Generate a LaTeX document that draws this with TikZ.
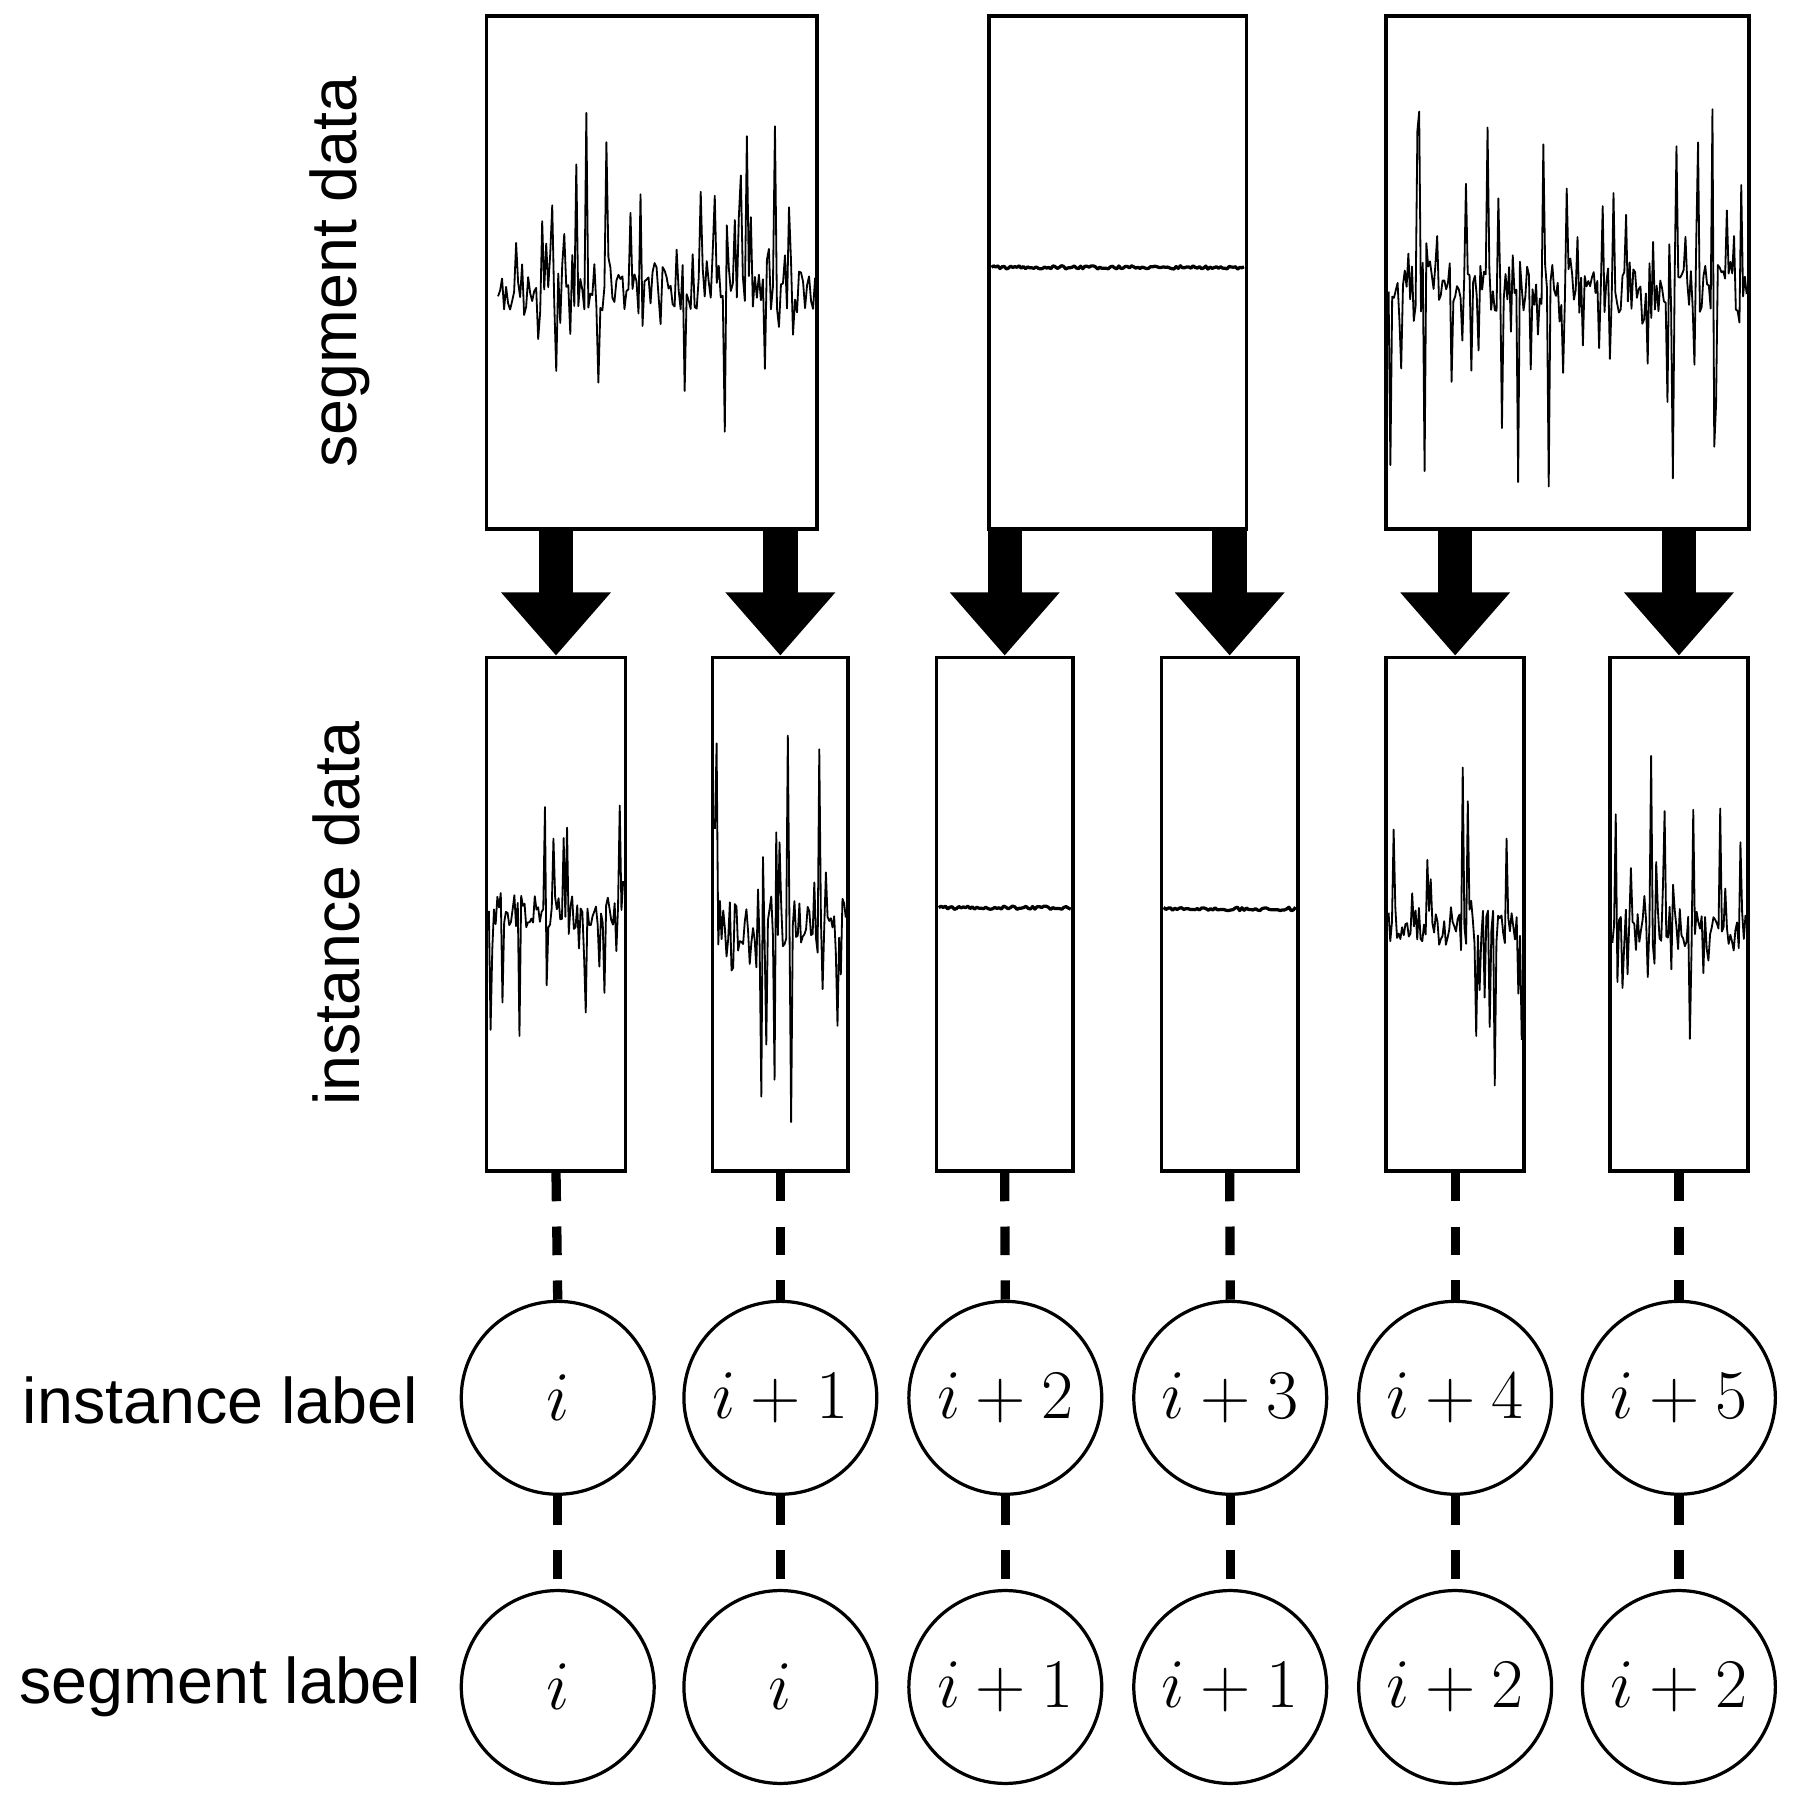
\documentclass[tikz,border=0pt]{standalone}
\usepackage{fontspec}
\setmainfont{Liberation Sans}
\usetikzlibrary{arrows.meta}
\begin{document}
\begin{tikzpicture}[x=0.01cm,y=-0.01cm,
  box/.style={draw,line width=0.9pt,minimum height=4.47cm,inner sep=0},
  lab/.style={draw,circle,line width=0.8pt,minimum size=1.68cm,inner sep=0,font=\fontsize{17}{20}\selectfont},
  txt/.style={font=\fontsize{16}{19}\selectfont},
  big/.style={line width=0.3cm,-{Triangle[width=0.92cm,length=0.55cm]}},
  dsh/.style={line width=2.3pt,dash pattern=on 0.25cm off 0.22cm},
  sig/.style={line width=0.45pt,line join=round}]
\useasboundingbox (0,0) rectangle (1565,1565);
% segment boxes
\node[box,minimum width=2.88cm] (sA) at (568,237.5) {};
\node[box,minimum width=2.24cm] (sB) at (974,237.5) {};
\node[box,minimum width=3.16cm] (sC) at (1366,237.5) {};
% instance boxes
\foreach \n/\x/\w in {1/484.5/1.21,2/680/1.18,3/875.5/1.19,4/1071.5/1.19,5/1268/1.20,6/1463/1.20}
  \node[box,minimum width=\w cm] (in\n) at (\x,796.5) {};
% signals
\pgfmathsetseed{11}
\draw[sig] plot[samples=160,domain=434:712] (\x,{250+20*rand+150*rand^7});
\pgfmathsetseed{5}
\draw[sig,line width=0.8pt] plot[samples=120,domain=864:1084] (\x,{233+1.5*rand});
\pgfmathsetseed{7}
\draw[sig] plot[samples=200,domain=1210:1522] (\x,{250+22*rand+160*rand^7});
\pgfmathsetseed{21}
\draw[sig] plot[samples=80,domain=426:543] (\x,{795+15*rand+140*rand^7});
\pgfmathsetseed{33}
\draw[sig] plot[samples=80,domain=623:737] (\x,{805+20*rand+170*rand^7});
\pgfmathsetseed{5}
\draw[sig,line width=0.8pt] plot[samples=60,domain=818:933] (\x,{791+1.5*rand});
\pgfmathsetseed{6}
\draw[sig,line width=0.8pt] plot[samples=60,domain=1014:1129] (\x,{792+1.5*rand});
\pgfmathsetseed{44}
\draw[sig] plot[samples=80,domain=1210:1326] (\x,{810+18*rand+150*rand^7});
\pgfmathsetseed{55}
\draw[sig] plot[samples=80,domain=1405:1521] (\x,{810+18*rand+150*rand^7});
% arrows
\draw[big] (in1.north |- sA.south) -- (in1.north);
\draw[big] (in2.north |- sA.south) -- (in2.north);
\draw[big] (in3.north |- sB.south) -- (in3.north);
\draw[big] (in4.north |- sB.south) -- (in4.north);
\draw[big] (in5.north |- sC.south) -- (in5.north);
\draw[big] (in6.north |- sC.south) -- (in6.north);
% label circles
\foreach \n/\x/\a/\b in {1/486/i/i,2/680/i+1/i,3/876/i+2/i+1,4/1072/i+3/i+1,5/1268/i+4/i+2,6/1463/i+5/i+2}{
  \node[lab] (il\n) at (\x,1218) {$\a$};
  \node[lab] (sl\n) at (\x,1470) {$\b$};
  \draw[dsh] (in\n.south) -- (il\n.north);
  \draw[dsh] (il\n.south) -- (sl\n.north);
}
% texts
\node[txt,rotate=90] (t1) at (296,237) {segment data};
\node[txt,rotate=90] (t2) at (293,796) {instance data};
\node[txt] (t3) at (192,1220) {instance label};
\node[txt] (t4) at (192,1470) {segment label};
\end{tikzpicture}
\end{document}
